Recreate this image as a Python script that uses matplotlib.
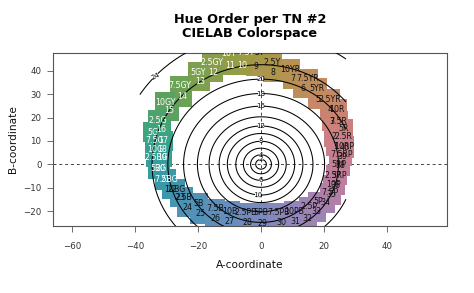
import matplotlib
matplotlib.use('Agg')
import matplotlib.pyplot as plt
import numpy as np

# Munsell hue chips, position in CIELAB (a, b)
hues = ['2.5R', '5R', '7.5R', '10R', '2.5YR', '5YR', '7.5YR', '10YR',
        '2.5Y', '5Y', '7.5Y', '10Y', '2.5GY', '5GY', '7.5GY', '10GY',
        '2.5G', '5G', '7.5G', '10G', '2.5BG', '5BG', '7.5BG', '10BG',
        '2.5B', '5B', '7.5B', '10B', '2.5PB', '5PB', '7.5PB', '10PB',
        '2.5P', '5P', '7.5P', '10P', '2.5RP', '5RP', '7.5RP', '10RP']
hue_a = [26.1, 26.1, 24.5, 24.2, 21.9, 17.8, 14.9, 9.2,
         3.5, -0.6, -4.8, -10.2, -15.6, -20.0, -25.7, -30.5,
         -32.7, -34.3, -33.7, -33.7, -33.4, -32.7, -30.2, -27.3,
         -24.8, -20.0, -14.6, -9.9, -4.8, 0.0, 5.4, 10.5,
         15.3, 18.1, 21.9, 22.9, 23.8, 24.8, 25.7, 26.4]
hue_b = [11.7, 15.1, 18.5, 23.6, 27.9, 32.6, 36.5, 40.7,
         43.7, 48.0, 48.0, 47.6, 43.7, 39.4, 33.5, 26.6,
         18.9, 13.8, 10.0, 6.5, 3.1, -2.0, -6.3, -10.6,
         -14.0, -16.6, -19.1, -20.0, -20.8, -20.8, -20.8, -20.0,
         -18.2, -16.1, -12.1, -8.7, -4.6, -0.3, 4.0, 7.8]
hue_colors = ['#cc8086', '#cc807e', '#cc8278', '#c88470', '#c68868', '#c28b60', '#be8e5a', '#b89254',
              '#ad954c', '#a49846', '#9c9a44', '#939c46', '#889e4a', '#7ca04e', '#6ca256', '#5ca25e',
              '#4ca46c', '#40a47a', '#3aa486', '#38a28e', '#36a296', '#369e9e', '#389aa6', '#3e96ac',
              '#4894b2', '#5292b6', '#5c90ba', '#668ebc', '#708cbe', '#7a8abe', '#8688bc', '#9286ba',
              '#9c84b6', '#a682b0', '#b080aa', '#b87ea4', '#be7e9e', '#c27e98', '#c68092', '#c9808c']

# order given by TN #2
tn_order = list(range(1, 41))
tn_a = [23.8, 23.2, 22.6, 21.9, 18.1, 13.3, 10.2, 3.8, -1.6, -6.0,
        -9.9, -15.3, -19.4, -25.1, -29.2, -31.8, -31.1, -31.5, -31.5, -32.1,
        -30.5, -28.3, -25.7, -23.5, -19.4, -14.6, -9.9, -4.4, 0.3, 6.4,
        10.8, 14.6, 17.5, 20.3, 22.2, 23.5, 24.1, 25.1, 25.7, 26.4]
tn_b = [7.8, 11.7, 18.5, 23.6, 27.9, 32.6, 36.5, 39.4, 42.0, 42.4,
        42.4, 39.4, 35.6, 28.8, 22.8, 14.7, 10.0, 6.5, 3.1, -2.0,
        -6.7, -10.6, -14.0, -18.3, -21.2, -23.4, -24.3, -25.1, -25.5, -25.1,
        -24.3, -23.0, -20.4, -16.5, -13.1, -9.2, -4.9, -0.7, 3.5, 7.0]

# contour levels and their a-radius (ellipses, b stretched)
contour_levels = [2, 4, 6, 8, 10, 12, 14, 16, 18, 20, 22, 24]
contour_radius = [1.7, 3.3, 5.6, 8.0, 10.7, 13.3, 16.5, 20.2, 24.6, 29.6, 34.6, 45.5]
b_stretch = 1.23
label_pos = [(0, 2.0), (0, 4.0), (0, -6.9), (0, 9.8), (-1, -13.2), (0, 16.4),
             (0, 24.8), (0, 30.4), (0, 36.4), (-34, 40)]

light_hues = set(hues[10:23])
light_tn = set(range(10, 22))

fig = plt.figure(figsize=(4.74, 2.93), dpi=100)
ax = fig.add_axes([53 / 474, 1 - 226 / 293, 394 / 474, 173 / 293])

ax.axhline(0, color='#444444', lw=0.7, ls=(0, (3, 3)), zorder=1)
ax.axvline(0, color='#444444', lw=0.7, ls=(0, (3, 3)), zorder=1)

# chips: hue positions and TN positions (colored by nearest hue)
ha_arr, hb_arr = np.array(hue_a), np.array(hue_b)
nearest = [int(np.argmin((ha_arr - x) ** 2 + (hb_arr - y) ** 2)) for x, y in zip(tn_a, tn_b)]
ax.scatter(tn_a, tn_b, s=195, marker='s', c=[hue_colors[i] for i in nearest],
           linewidths=0, zorder=2)
ax.scatter(hue_a, hue_b, s=195, marker='s', c=hue_colors, linewidths=0, zorder=2)

# contour field
ga = np.linspace(-38.5, 27, 300)
gb = np.linspace(-30, 50, 300)
A, B = np.meshgrid(ga, gb)
rho = np.sqrt(A ** 2 + (B / b_stretch) ** 2)
field = np.interp(rho, [0] + contour_radius + [80], [0] + contour_levels + [34])
cs = ax.contour(A, B, field, levels=contour_levels, colors='black', linewidths=0.75, zorder=3)
ax.clabel(cs, fontsize=5, inline=True, inline_spacing=1, fmt='%d', manual=label_pos)

for h, x, y in zip(hues, hue_a, hue_b):
    ax.text(x, y, h, fontsize=5.7, ha='center', va='center', zorder=4, clip_on=True,
            color='white' if h in light_hues else '#111111')
for n, x, y in zip(tn_order, tn_a, tn_b):
    ax.text(x, y, str(n), fontsize=5.7, ha='center', va='center', zorder=4, clip_on=True,
            color='white' if n in light_tn else '#111111')

ax.set_xlim(-66.1, 59.1)
ax.set_ylim(-26.4, 47.6)
ax.set_xticks([-60, -40, -20, 0, 20, 40])
ax.set_yticks([-20, -10, 0, 10, 20, 30, 40])
ax.tick_params(axis='x', length=4.3, width=0.6, color='#555555', labelcolor='#333333',
               labelsize=6.2, pad=7)
ax.tick_params(axis='y', length=4.3, width=0.6, color='#555555', labelcolor='#333333',
               labelsize=6.2, pad=4)
for sp in ax.spines.values():
    sp.set_color('#555555')
    sp.set_linewidth(0.8)

ax.set_xlabel('A-coordinate', fontsize=7.6, color='#111111', labelpad=7)
ax.set_ylabel('B-coordinate', fontsize=7.6, color='#111111', labelpad=4)
fig.text(250 / 474, 1 - 26.5 / 293, 'Hue Order per TN #2\nCIELAB Colorspace',
         ha='center', va='center', fontsize=9.3, fontweight='bold', linespacing=1.15)

fig.savefig('out.png', dpi=100, facecolor='white')
